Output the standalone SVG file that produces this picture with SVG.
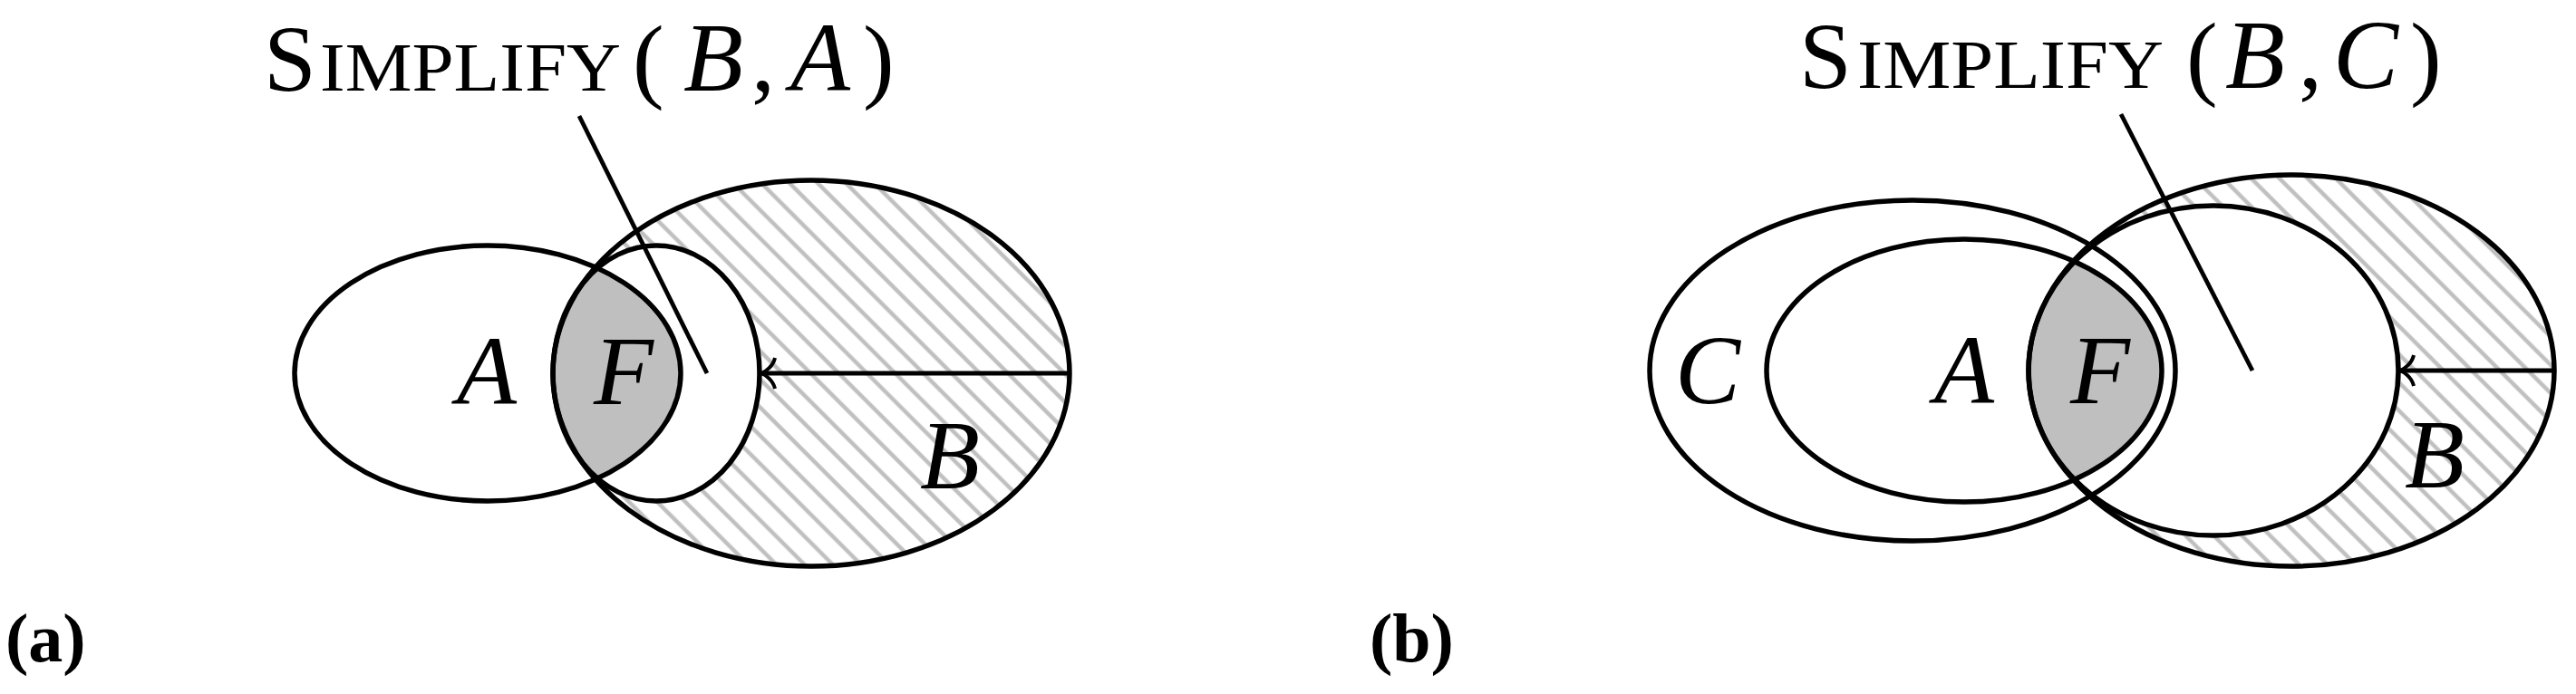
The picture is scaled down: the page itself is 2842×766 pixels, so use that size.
<svg xmlns="http://www.w3.org/2000/svg" width="2842" height="766" viewBox="0 0 2842 766">
<style>
.outline{fill:none;stroke:#000;stroke-width:5.5}
.line{fill:none;stroke:#000;stroke-width:4.8}
.arrow{fill:none;stroke:#000;stroke-width:4.8;marker-end:url(#tip)}
.gray{fill:#bfbfbf;stroke:none}
.hatch{fill:url(#hatch);fill-rule:evenodd;stroke:none}
.lbl{font-family:"Liberation Serif","Times New Roman",serif;font-style:italic;font-size:108px;fill:#000;text-anchor:middle}
.title{font-family:"Liberation Serif","Times New Roman",serif;font-size:104px;fill:#000}
.sc{font-size:77px}
.it{font-style:italic;font-size:108px}
.sub{font-family:"Liberation Serif","Times New Roman",serif;font-weight:bold;font-size:76px;fill:#000}
</style>
<defs>
<pattern id="hatch" patternUnits="userSpaceOnUse" width="22" height="22" patternTransform="rotate(45)">
<rect width="22" height="22" fill="#fff"/>
<line x1="0" y1="11" x2="22" y2="11" stroke="#c0c0c0" stroke-width="4.5"/>
</pattern>
<marker id="tip" markerUnits="userSpaceOnUse" viewBox="-20 -20 40 40" markerWidth="40" markerHeight="40" refX="0" refY="0" orient="auto" overflow="visible">
<path d="M-15,-17 C-13,-8 -5,-2 0,0 C-5,2 -13,8 -15,17" fill="none" stroke="#000" stroke-width="4"/>
</marker>
<clipPath id="clipSa"><ellipse cx="724" cy="412" rx="114" ry="141"/></clipPath>
<clipPath id="clipSb"><ellipse cx="2442" cy="409" rx="204" ry="182"/></clipPath>
</defs>

<!-- Panel (a) -->
<g id="panel-a">
<g id="a-fills">
<path class="hatch" d="M610,412 a285,213 0 1,0 570,0 a285,213 0 1,0 -570,0Z M610,412 a114,141 0 1,0 228,0 a114,141 0 1,0 -228,0Z"/>
<ellipse class="gray" cx="538" cy="412" rx="213" ry="141" clip-path="url(#clipSa)"/>
</g>
<g id="a-setA"><ellipse class="outline" cx="538" cy="412" rx="213" ry="141"/><text class="lbl" x="537" y="446">A</text></g>
<g id="a-setB"><ellipse class="outline" cx="895" cy="412" rx="285" ry="213"/><text class="lbl" x="1048" y="539">B</text></g>
<g id="a-simplified"><ellipse class="outline" cx="724" cy="412" rx="114" ry="141"/></g>
<g id="a-F"><text class="lbl" x="688" y="446">F</text></g>
<g id="a-title"><text class="title" y="100"><tspan x="291">S</tspan><tspan class="sc" x="353" textLength="332" lengthAdjust="spacingAndGlyphs">IMPLIFY</tspan><tspan x="698">(</tspan><tspan class="it" x="754">B</tspan><tspan x="829">,</tspan><tspan class="it" x="872">A</tspan><tspan x="952">)</tspan></text></g>
<g id="a-label"><text class="sub" x="6" y="730">(a)</text></g>
</g>

<!-- Panel (b) -->
<g id="panel-b">
<g id="b-fills">
<path class="hatch" d="M2238,409 a290,216 0 1,0 580,0 a290,216 0 1,0 -580,0Z M2238,409 a204,182 0 1,0 408,0 a204,182 0 1,0 -408,0Z"/>
<ellipse class="gray" cx="2167" cy="409" rx="218" ry="145" clip-path="url(#clipSb)"/>
</g>
<g id="b-setC"><ellipse class="outline" cx="2110" cy="409" rx="290" ry="188"/><text class="lbl" x="1884" y="445">C</text></g>
<g id="b-setA"><ellipse class="outline" cx="2167" cy="409" rx="218" ry="145"/><text class="lbl" x="2167" y="445">A</text></g>
<g id="b-setB"><ellipse class="outline" cx="2528" cy="409" rx="290" ry="216"/><text class="lbl" x="2686" y="538">B</text></g>
<g id="b-simplified"><ellipse class="outline" cx="2442" cy="409" rx="204" ry="182"/></g>
<g id="b-F"><text class="lbl" x="2317" y="445">F</text></g>
<g id="b-title"><text class="title" y="97"><tspan x="1985">S</tspan><tspan class="sc" x="2049" textLength="338" lengthAdjust="spacingAndGlyphs">IMPLIFY</tspan><tspan x="2412">(</tspan><tspan class="it" x="2455">B</tspan><tspan x="2536">,</tspan><tspan class="it" x="2574">C</tspan><tspan x="2659">)</tspan></text></g>
<g id="b-label"><text class="sub" x="1511" y="730">(b)</text></g>
</g>

<!-- Connectors -->
<g id="connectors">
<line class="line" x1="639" y1="128" x2="780" y2="412"/>
<line class="arrow" x1="1180" y1="412" x2="840" y2="412"/>
<line class="line" x1="2340" y1="126" x2="2485" y2="409"/>
<line class="arrow" x1="2818" y1="409" x2="2648" y2="409"/>
</g>
</svg>
